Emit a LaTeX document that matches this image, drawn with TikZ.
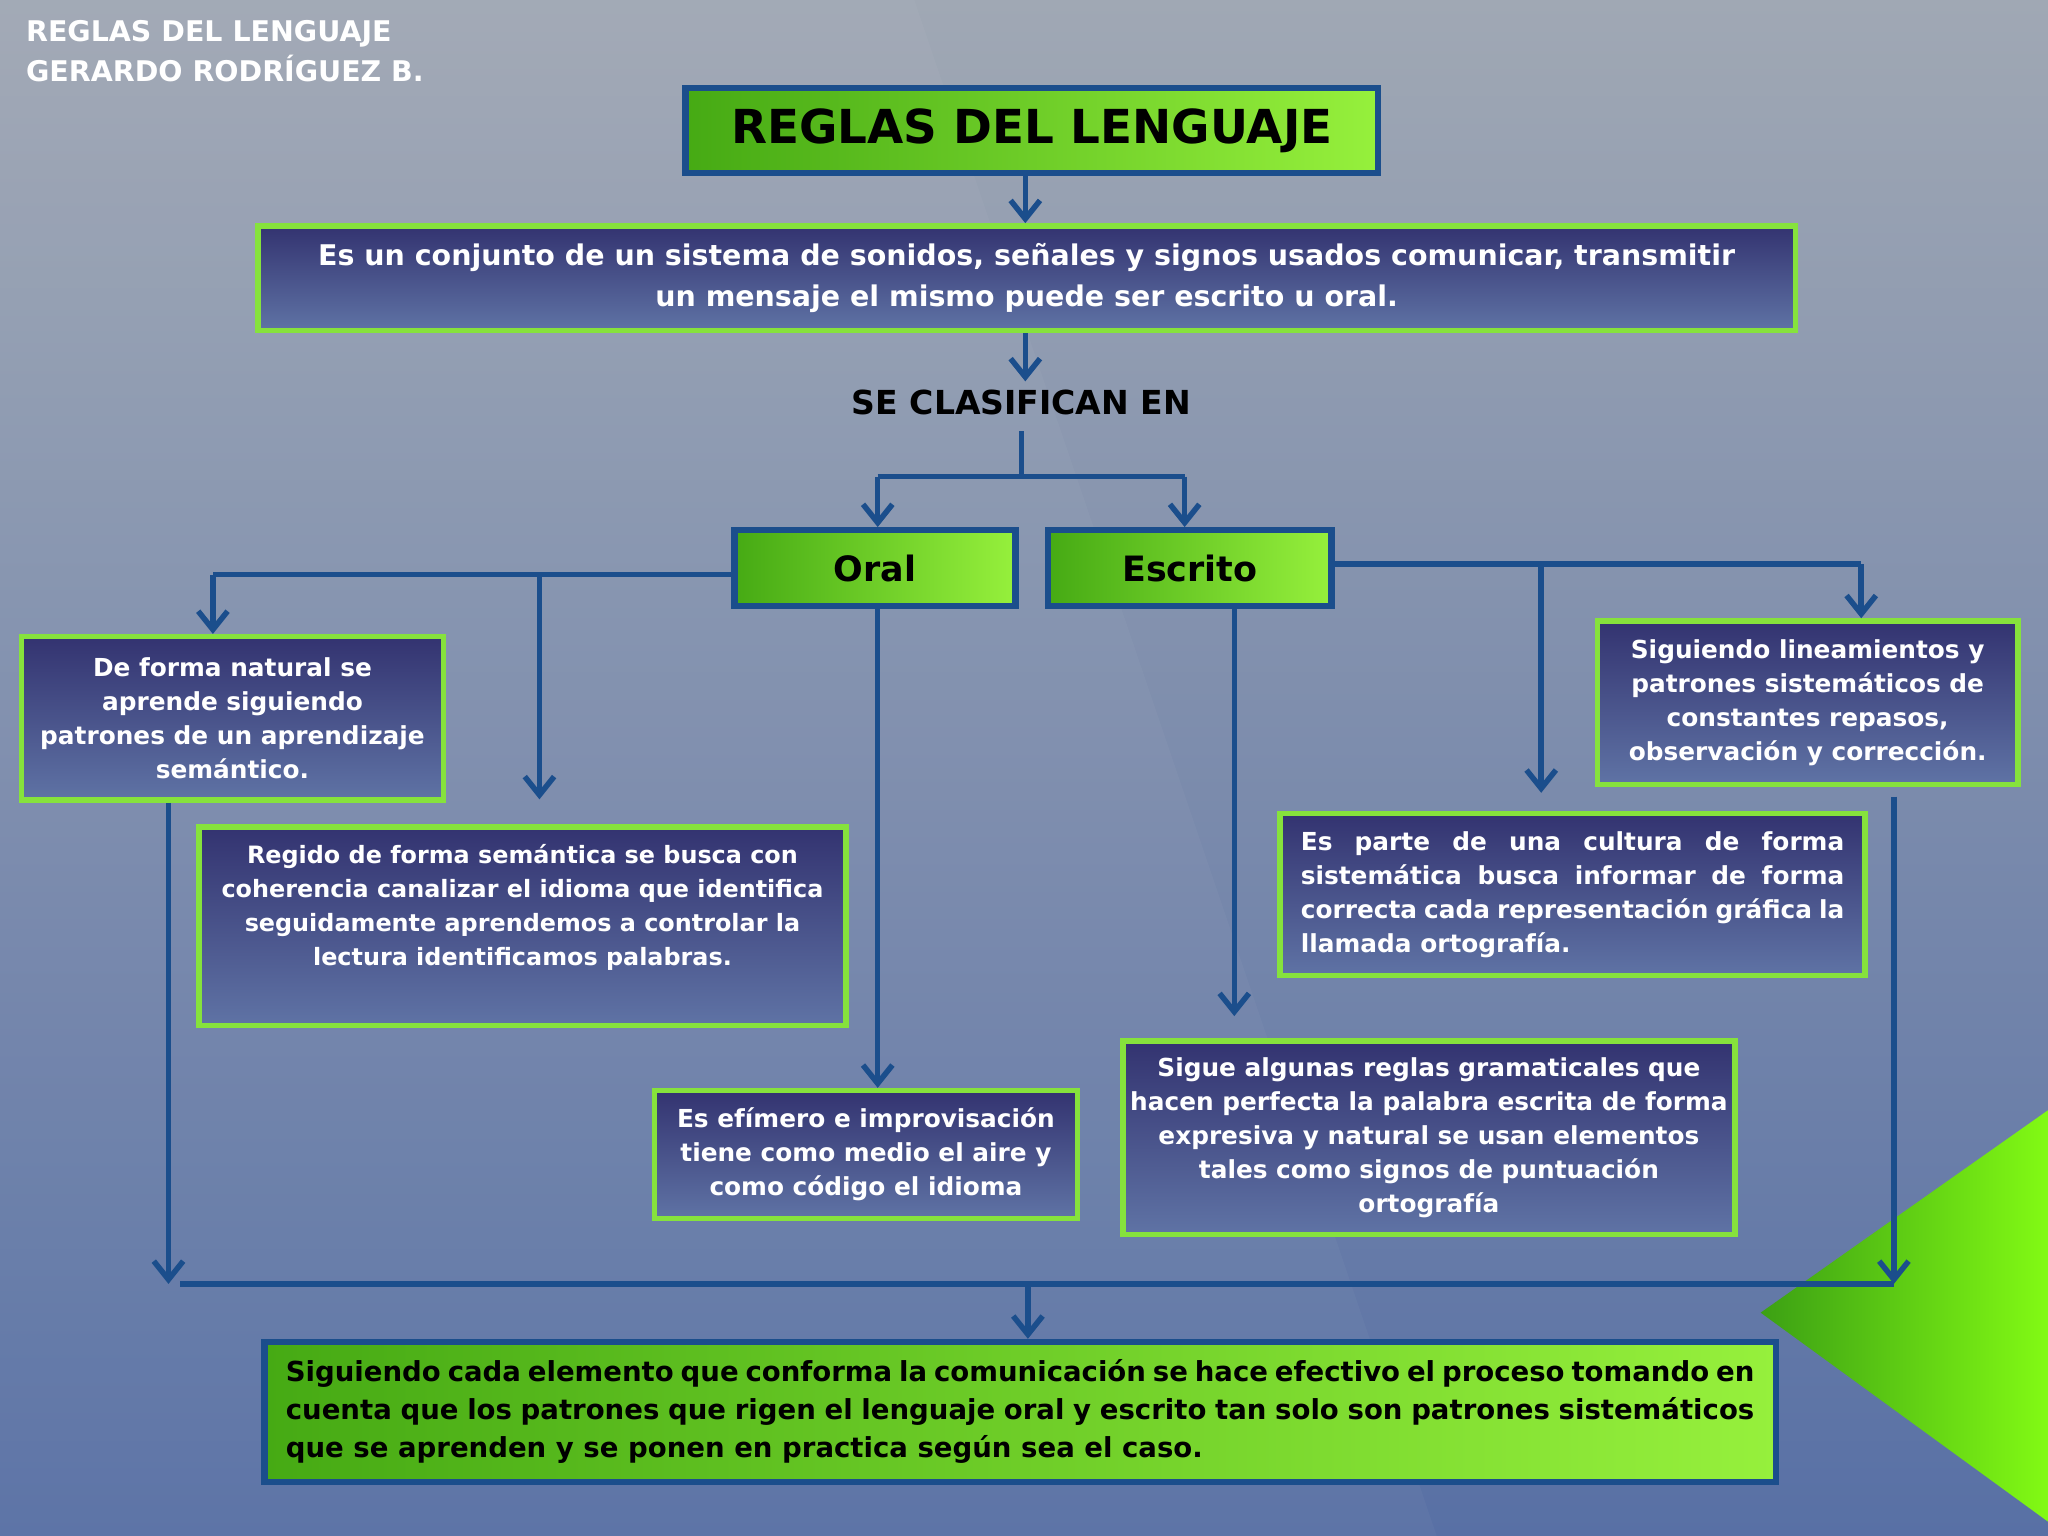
\documentclass[tikz,border=0pt]{standalone}
\usepackage{fontspec}
\setmainfont{DejaVu Sans}
\usetikzlibrary{arrows.meta}
\definecolor{lb}{HTML}{1B4E8C}
\definecolor{gb}{HTML}{86E23C}
\tikzset{
 bluebox/.style={draw=gb,line width=3pt,top color=blue!30!black!80!white,bottom color={rgb,255:red,95;green,115;blue,165},
   text=white,font=\bfseries\fontsize{13.5}{18.5}\selectfont,align=center,inner sep=4pt},
 greenbox/.style={draw=lb,line width=3.5pt,left color={rgb,255:red,70;green,170;blue,20},right color={rgb,255:red,150;green,240;blue,60},
   text=black,font=\bfseries,align=center},
 conn/.style={draw=lb,line width=3pt},
 arr/.style={conn,-{Straight Barb[length=10pt,width=16pt,line width=3pt]}},
}
\begin{document}
\begin{tikzpicture}[x=0.025cm,y=-0.025cm]
\useasboundingbox (0,0) rectangle (1568,1176);
\shade[top color={rgb,255:red,160;green,168;blue,180},bottom color={rgb,255:red,88;green,112;blue,165}] (0,0) rectangle (1568,1176);
\fill[white,opacity=0.03] (0,0) -- (700,0) -- (1100,1176) -- (0,1176) -- cycle;
\shade[left color={rgb,255:red,60;green,160;blue,20},right color={rgb,255:red,130;green,250;blue,20}] (1568,850) -- (1348,1005) -- (1568,1165) -- cycle;
\node[anchor=west,text=white,font=\bfseries\fontsize{15.5}{22}\selectfont,align=left] (hdr) at (15,39) {REGLAS DEL LENGUAJE\\GERARDO RODRÍGUEZ B.};

\node[greenbox,minimum width=13.25cm,minimum height=1.625cm,font=\bfseries\fontsize{25.5}{30}\selectfont] (title) at (790,100) {REGLAS DEL LENGUAJE};
\node[bluebox,minimum width=29.425cm,minimum height=2cm,font=\bfseries\fontsize{15.5}{22.5}\selectfont] (def) at (786,213) {Es un conjunto de un sistema de sonidos, señales y signos usados comunicar, transmitir\\un mensaje el mismo puede ser escrito u oral.};
\node[font=\bfseries\fontsize{18}{24}\selectfont] (clas) at (782,308) {SE CLASIFICAN EN};
\node[greenbox,minimum width=5.375cm,minimum height=1.45cm,font=\bfseries\fontsize{19}{24}\selectfont] (oral) at (670,435) {Oral};
\node[greenbox,minimum width=5.425cm,minimum height=1.45cm,font=\bfseries\fontsize{19}{24}\selectfont] (esc) at (911,435) {Escrito};
\node[bluebox,minimum width=8.075cm,minimum height=3.125cm] (b1) at (178,550) {De forma natural se\\aprende siguiendo\\patrones de un aprendizaje\\semántico.};
\node[bluebox,minimum width=12.375cm,minimum height=3.8cm,inner sep=2pt,font=\bfseries\fontsize{13}{18.5}\selectfont] (b2) at (400,709) {Regido de forma semántica se busca con\\coherencia canalizar el idioma que identifica\\seguidamente aprendemos a controlar la\\lectura identificamos palabras.\\[4pt]\mbox{}};
\node[bluebox,minimum width=8.1cm,minimum height=2.45cm] (b3) at (663,884) {Es efímero e improvisación\\tiene como medio el aire y\\como código el idioma};
\node[bluebox,minimum width=11.7cm,minimum height=3.7cm] (b4) at (1094,871) {Sigue algunas reglas gramaticales que\\hacen perfecta la palabra escrita de forma\\expresiva y natural se usan elementos\\tales como signos de puntuación\\ortografía};
\node[bluebox,minimum width=11.2cm,minimum height=3.1cm,text width=10.4cm,align=justify] (b5) at (1204,685) {Es parte de una cultura de forma\linebreak sistemática busca informar de forma\linebreak correcta cada representación gráfica la\linebreak llamada ortografía.};
\node[bluebox,minimum width=8.05cm,minimum height=3.125cm] (b6) at (1384,538) {Siguiendo lineamientos y\\patrones sistemáticos de\\constantes repasos,\\observación y corrección.};
\node[greenbox,minimum width=28.925cm,minimum height=2.675cm,text width=28.1cm,align=justify,font=\bfseries\fontsize{15}{20.7}\selectfont] (bot) at (781,1081) {Siguiendo cada elemento que conforma la comunicación se hace efectivo el proceso tomando en\linebreak cuenta que los patrones que rigen el lenguaje oral y escrito tan solo son patrones sistemáticos\linebreak que se aprenden y se ponen en practica según sea el caso.};

\coordinate (s1) at (782,330); \coordinate (s2) at (782,365);
\coordinate (ol) at (672,365); \coordinate (er) at (907,365);
\coordinate (l1) at (163,440); \coordinate (l2) at (413,440);
\coordinate (r1) at (1425,432); \coordinate (r2) at (1180,432);
\coordinate (bl) at (129,983); \coordinate (br) at (1450,983); \coordinate (bm) at (787,983);

\draw[arr] (title.south -| 785,0) -- (def.north -| 785,0);
\draw[arr] (def.south -| 785,0) -- (785,292);
\draw[conn] (s1) -- (s2);
\draw[conn] (ol) -- (er);
\draw[arr] (ol) -- (oral.north -| ol);
\draw[arr] (er) -- (esc.north -| er);
\draw[conn] (oral.west |- l1) -- (l1);
\draw[arr] (l1) -- (b1.north -| l1);
\draw[arr] (l2) -- (413,612);
\draw[arr] (oral.south -| 672,0) -- (b3.north -| 672,0);
\draw[arr] (esc.south -| 945,0) -- (945,778);
\draw[conn] (esc.east |- r1) -- (r1);
\draw[arr] (r1) -- (b6.north -| r1);
\draw[arr] (r2) -- (1180,607);
\draw[arr] (b1.south -| bl) -- (bl);
\draw[arr] (1450,610) -- (br);
\draw[conn] (138,983) -- (br);
\draw[arr] (bm) -- (bot.north -| bm);
\end{tikzpicture}
\end{document}
